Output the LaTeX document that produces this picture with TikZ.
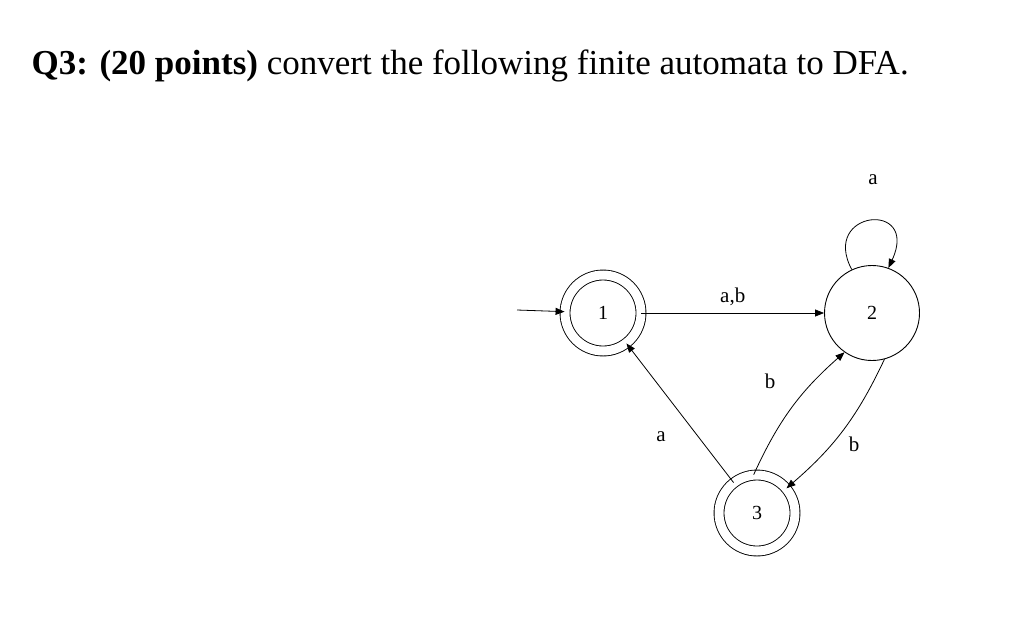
\documentclass[tikz,border=0pt]{standalone}
\usepackage{fontspec}
\setmainfont{Liberation Serif}
\usetikzlibrary{arrows.meta}
\begin{document}
\begin{tikzpicture}[x=1pt,y=-1pt,
  st/.style={circle,draw,line width=0.9pt,minimum size=76pt,inner sep=0pt,font=\fontsize{20}{22}\selectfont},
  acc/.style={st,double,double distance=9pt},
  lbl/.style={font=\fontsize{21}{23}\selectfont},
  ed/.style={line width=0.8pt,-{Triangle[length=9pt,width=7pt]}}]
\useasboundingbox (0,0) rectangle (1024,640);
\node[anchor=west,font=\fontsize{35}{40}\selectfont] (title) at (28,66) {\textbf{Q3: (20 points)} convert the following finite automata to DFA.};
\node[acc] (n1) at (603,313) {1};
\node[st,minimum size=95pt] (n2) at (872,313) {2};
\node[acc] (n3) at (757,513) {3};
\coordinate (start) at (517,310);
\draw[ed] (start) -- (n1);
\draw[ed] (n1) -- node[lbl,above=4pt]{a,b} (n2);
\draw[ed] (n3) -- (n1);
\node[lbl] (la) at (661,437) {a};
\draw[ed] (n3.95) to[bend left=12] (n2.235);
\node[lbl] (lb1) at (770,381) {b};
\draw[ed] (n2.285) to[bend left=12] (n3.40);
\node[lbl] (lb2) at (854,444) {b};
\draw[ed] (n2.115) .. controls (820,210) and (920,200) .. (n2.70);
\node[lbl] (la2) at (873,180) {a};
\end{tikzpicture}
\end{document}
